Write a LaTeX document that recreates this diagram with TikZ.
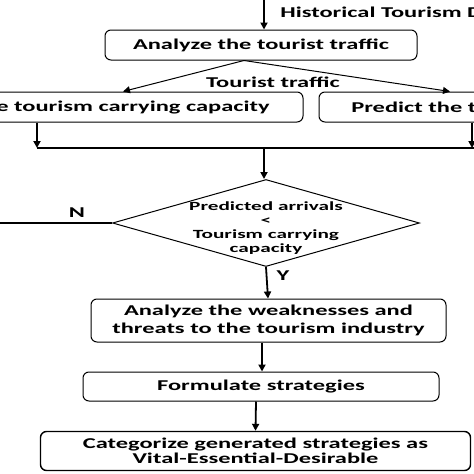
\documentclass[tikz,border=0pt]{standalone}
\usepackage{fontspec}
\setmainfont{Carlito}
\usetikzlibrary{arrows.meta,shapes.geometric}
\begin{document}
\begin{tikzpicture}[x=1pt,y=-1pt,
  every node/.style={font=\bfseries\fontsize{15}{15.5}\selectfont, inner sep=0pt},
  rbox/.style={draw, line width=1pt, rounded corners=6pt},
  txt/.style={xscale=1.63, transform shape, align=center},
  arr/.style={line width=1.8pt, -{Triangle[length=7pt,width=7pt]}},
  thinarr/.style={line width=1pt, -{Triangle[length=7pt,width=7pt]}}]
\useasboundingbox (0,0) rectangle (474,474);
\clip (0,0) rectangle (474,474);
\fill[white] (0,0) rectangle (474,474);
% top
\coordinate (top) at (264,-5);
\node[txt, anchor=west] (hist) at (280,12) {Historical Tourism Data};
\node[rbox, minimum width=312pt, minimum height=30pt] (b1) at (261,45) {};
\node[txt] (b1t) at (b1.center) {Analyze the tourist traffic};
\draw[arr] (top) -- (b1.north -| top);
% second row
\node[rbox, minimum width=380pt, minimum height=30pt] (lb) at (113,107) {};
\node[txt, anchor=east] (lbt) at (270,107) {Estimate the tourism carrying capacity};
\node[rbox, minimum width=320pt, minimum height=30pt] (rb) at (479,107) {};
\node[txt, anchor=west] (rbt) at (351,107) {Predict the tourist arrivals};
\coordinate (lbtop) at (123,92);
\coordinate (rbtop) at (450,92);
\draw[thinarr] ([xshift=-17pt]b1.south) -- (lb.north -| lbtop);
\draw[thinarr] ([xshift=-17pt]b1.south) -- (rb.north -| rbtop);
\node[txt] (tt) at (273,82) {Tourist traffic};
% merge
\coordinate (mL) at (37,148);
\coordinate (mR) at (472,148);
\coordinate (mC) at (264,148);
\draw[line width=1.3pt] (mL) -- (490,148);
\draw[arr] (lb.south -| mL) -- (mL);
\draw[arr] (rb.south -| mR) -- (mR);
% diamond
\node[draw, line width=1pt, diamond, aspect=3.53, minimum width=307pt, minimum height=87pt] (d) at (266,223) {};
\node[txt, font=\bfseries\fontsize{12.5}{14}\selectfont, xscale=1.043] (dt) at (266,228) {Predicted arrivals\\<\\Tourism carrying\\capacity};
\draw[arr] (mC) -- (d.north -| mC);
\coordinate (nEnd) at (-5,223);
\draw[line width=1.3pt] (d.west) -- (nEnd);
\node[txt] (N) at (77,213) {N};
% lower boxes
\node[rbox, minimum width=355pt, minimum height=43pt] (b3) at (268.5,320.5) {};
\node[txt, font=\bfseries\fontsize{15}{17.3}\selectfont] (b3t) at (b3.center) {Analyze the weaknesses and\\threats to the tourism industry};
\draw[arr] (d.south) -- ([xshift=-0.5pt]b3.north);
\node[txt] (Y) at (283,276) {Y};
\node[rbox, minimum width=356pt, minimum height=29pt] (b4) at (261,386.5) {};
\node[txt] (b4t) at (b4.center) {Formulate strategies};
\draw[arr] ([xshift=-6.5pt]b3.south) -- ([xshift=1pt]b4.north);
\node[rbox, line width=1.4pt, minimum width=430pt, minimum height=39pt] (b5) at (255.5,451) {};
\node[txt, font=\bfseries\fontsize{15}{15}\selectfont] (b5t) at (b5.center) {Categorize generated strategies as\\Vital-Essential-Desirable};
\draw[arr] ([xshift=-5pt]b4.south) -- (b5.north);
\end{tikzpicture}
\end{document}
